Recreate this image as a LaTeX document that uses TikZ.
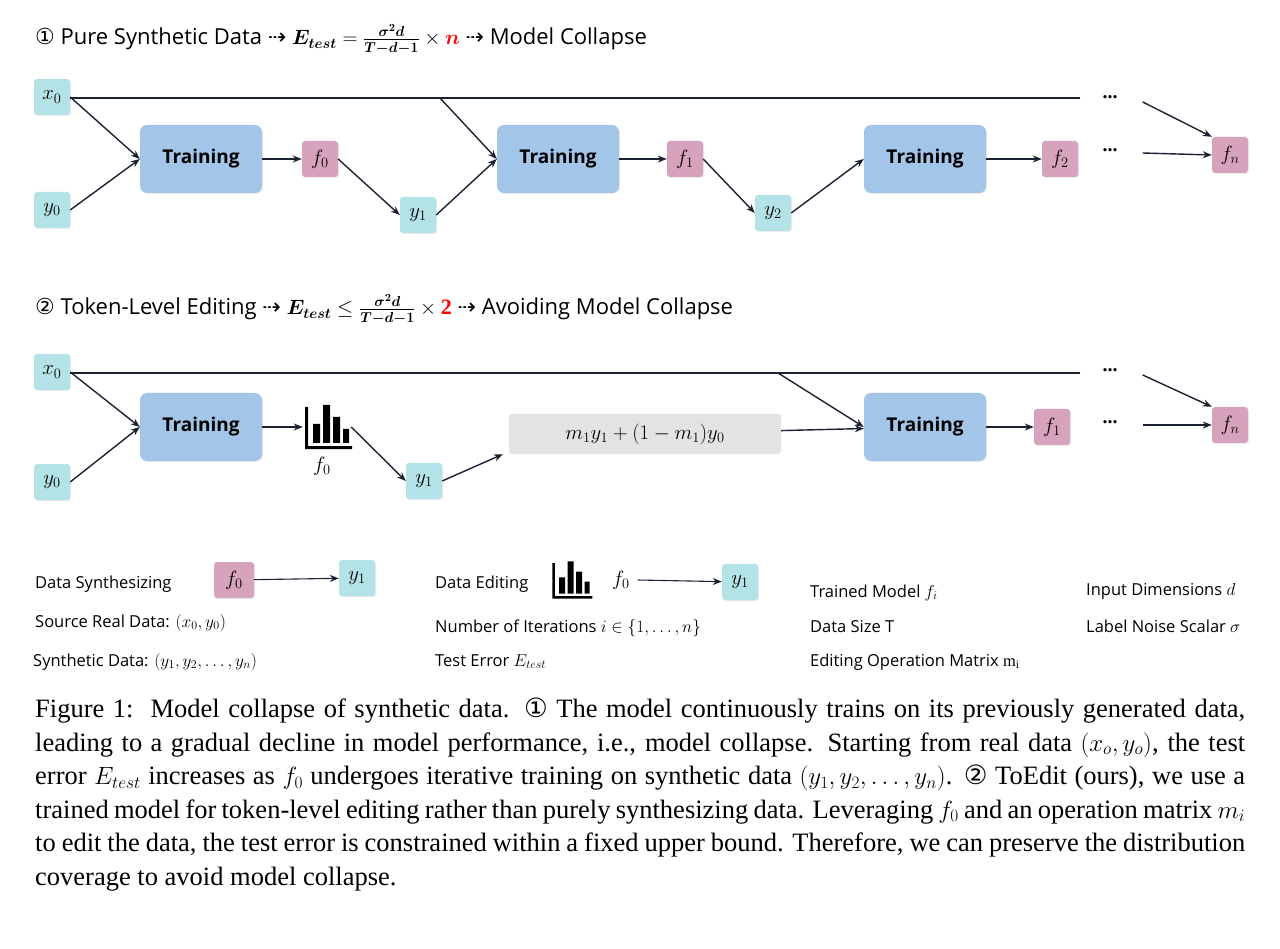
\documentclass[tikz,border=0pt]{standalone}
\usepackage{amsmath,amssymb,bm}
\usepackage{fontspec}
\setmainfont{Liberation Serif}
\newfontfamily\lab{Open Sans}
\newfontfamily\djv{DejaVu Sans}
\usetikzlibrary{arrows.meta,shadows}
\definecolor{cy}{HTML}{B3E3E6}
\definecolor{pk}{HTML}{D6A2BC}
\definecolor{bl}{HTML}{A3C5E8}
\definecolor{gr}{HTML}{E3E3E3}
\definecolor{ln}{HTML}{1A2233}
\tikzset{
 sm/.style={fill=cy,rounded corners=3pt,minimum width=36pt,minimum height=36pt,inner sep=0pt,font=\fontsize{22}{24}\selectfont,drop shadow={opacity=0.15,shadow xshift=1pt,shadow yshift=-1pt}},
 fm/.style={sm,fill=pk},
 tr/.style={fill=bl,rounded corners=7pt,minimum width=122pt,minimum height=68pt,font=\lab\bfseries\fontsize{19}{21}\selectfont,drop shadow={opacity=0.15,shadow xshift=1pt,shadow yshift=-1pt}},
 ar/.style={-{Stealth[length=9pt,width=7pt]},line width=1.4pt,draw=ln},
 ttl/.style={anchor=base west,font=\lab\fontsize{22}{24}\selectfont,inner sep=0pt},
 lg/.style={anchor=base west,font=\lab\fontsize{16.5}{18}\selectfont,inner sep=0pt},
 dots/.style={font=\bfseries\fontsize{20}{20}\selectfont,inner sep=0pt},
 bars/.pic={\fill (-22,-20) rectangle (-19,22) (-22,19) rectangle (25,22);
   \fill (-14,-3) rectangle (-7,16) (-4,-22) rectangle (3,16) (6,-10) rectangle (13,16) (16,2) rectangle (22,16);}
}
\begin{document}
\begin{tikzpicture}[x=1pt,y=-1pt]
\useasboundingbox[fill=white] (0,0) rectangle (1280,949);
% ---- section 1
\node[ttl] (t1) at (35,45) {{\djv\char"2460} Pure Synthetic Data {\djv\char"21E2} $\bm{E_{test}}=\frac{\bm{\sigma^2 d}}{\bm{T-d-1}}\times\textcolor{red}{\bm{n}}$ {\djv\char"21E2} Model Collapse};
\node[sm] (ax0) at (52,97) {$x_0$};
\node[sm] (ay0) at (52,210) {$y_0$};
\node[tr] (at1) at (201,159) {Training};
\node[fm] (af0) at (320,159) {$f_0$};
\node[sm] (ay1) at (418,215) {$y_1$};
\node[tr] (at2) at (558,159) {Training};
\node[fm] (af1) at (685,159) {$f_1$};
\node[sm] (ay2) at (773,213) {$y_2$};
\node[tr] (at3) at (925,159) {Training};
\node[fm] (af2) at (1060,159) {$f_2$};
\node[dots] (ad1) at (1110,97) {...};
\node[dots] (ad2) at (1110,150) {...};
\node[fm] (afn) at (1230,155) {$f_n$};
\coordinate (aL) at (1080,98);
\coordinate (aB) at (440,98);
\draw[line width=1.4pt,draw=ln] (ax0.east |- 0,98) -- (aL);
\draw[ar] (ax0.east) -- (at1.west);
\draw[ar] (ay0.east) -- (at1.west);
\draw[ar] (at1) -- (af0);
\draw[ar] (af0.east) -- (ay1.west);
\draw[ar] (ay1.east) -- (at2.west);
\draw[ar] (aB) -- (at2.west);
\draw[ar] (at2) -- (af1);
\draw[ar] (af1.east) -- (ay2.west);
\draw[ar] (ay2.east) -- (at3.west);
\draw[ar] (at3) -- (af2);
\draw[ar] (ad1.east)++(25,5) -- (afn.north west);
\draw[ar] (ad2.east)++(25,3) -- (afn.west);
% ---- section 2
\node[ttl] (t2) at (35,315) {{\djv\char"2461} Token-Level Editing {\djv\char"21E2} $\bm{E_{test}}\leq\frac{\bm{\sigma^2 d}}{\bm{T-d-1}}\times\textcolor{red}{\mathbf{2}}$ {\djv\char"21E2} Avoiding Model Collapse};
\node[sm] (bx0) at (52,372) {$x_0$};
\node[sm] (by0) at (52,482) {$y_0$};
\node[tr] (bt1) at (201,427) {Training};
\node[minimum width=48pt,minimum height=46pt,inner sep=0pt] (bic) at (327,427) {};
\pic at (327,427) {bars};
\node[font=\fontsize{22}{24}\selectfont] (bf0) at (322,466) {$f_0$};
\node[sm] (by1) at (424,481) {$y_1$};
\node[fill=gr,rounded corners=3pt,minimum width=272pt,minimum height=40pt,font=\fontsize{22}{24}\selectfont] (bm) at (645,434) {$m_1y_1+(1-m_1)y_0$};
\node[tr] (bt2) at (925,427) {Training};
\node[fm] (bf1) at (1052,427) {$f_1$};
\node[dots] (bd1) at (1110,370) {...};
\node[dots] (bd2) at (1110,422) {...};
\node[fm] (bfn) at (1230,425) {$f_n$};
\coordinate (bL) at (1080,373);
\coordinate (bB) at (778,373);
\draw[line width=1.4pt,draw=ln] (bx0.east |- 0,373) -- (bL);
\draw[ar] (bx0.east) -- (bt1.west);
\draw[ar] (by0.east) -- (bt1.west);
\draw[ar] (bt1) -- (bic);
\draw[ar] (bic.east) -- (by1.west);
\draw[ar] (by1.east) -- ([xshift=-6pt]bm.south west);
\draw[ar] (bm) -- (bt2);
\draw[ar] (bB) -- (bt2.west);
\draw[ar] (bt2) -- (bf1);
\draw[ar] (bd1.east)++(25,5) -- (bfn.north west);
\draw[ar] (bd2.east)++(25,3) -- (bfn.west);
% ---- legend
\node[lg] (l1) at (35,588) {Data Synthesizing};
\node[fm,minimum width=40pt] (lf0) at (234,580) {$f_0$};
\node[sm] (ly1) at (357,578) {$y_1$};
\draw[ar,line width=1.1pt] (lf0) -- (ly1);
\node[lg] (l2) at (35,627) {Source Real Data: $(x_0,y_0)$};
\node[lg] (l3) at (33,666) {Synthetic Data: $(y_1,y_2,\ldots,y_n)$};
\node[lg] (l4) at (435,588) {Data Editing};
\node[minimum width=40pt,minimum height=40pt,inner sep=0pt] (lic) at (571,580) {};
\pic[scale=0.85] at (571,580) {bars};
\node[font=\fontsize{21}{24}\selectfont,inner sep=0pt] (lf) at (621,580) {$f_0$};
\node[sm] (ly2) at (740,582) {$y_1$};
\draw[ar,line width=1.1pt] (lf.east)++(8,0) -- (ly2);
\node[lg] (l5) at (435,632) {Number of Iterations $i\in\{1,\ldots,n\}$};
\node[lg] (l6) at (435,666) {Test Error $E_{test}$};
\node[lg] (l7) at (810,597) {Trained Model $f_i$};
\node[lg] (l8) at (810,632) {Data Size T};
\node[lg] (l9) at (810,666) {Editing Operation Matrix $\mathrm{m_i}$};
\node[lg] (l10) at (1086,595) {Input Dimensions $d$};
\node[lg] (l11) at (1086,632) {Label Noise Scalar $\sigma$};
% ---- caption
\node[anchor=north west,inner sep=0pt,text width=1210pt,align=justify,font=\fontsize{26.5}{33.5}\selectfont] (cap) at (35,698) {Figure 1:\ \ Model collapse of synthetic data. {\djv\char"2460} The model continuously trains on its previously generated data, leading to a gradual decline in model performance, i.e., model collapse. Starting from real data $(x_o,y_o)$, the test error $E_{test}$ increases as $f_0$ undergoes iterative training on synthetic data $(y_1,y_2,\ldots,y_n)$. {\djv\char"2461} ToEdit (ours), we use a trained model for token-level editing rather than purely synthesizing data. Leveraging $f_0$ and an operation matrix $m_i$ to edit the data, the test error is constrained within a fixed upper bound. Therefore, we can preserve the distribution coverage to avoid model collapse.};
\end{tikzpicture}
\end{document}
